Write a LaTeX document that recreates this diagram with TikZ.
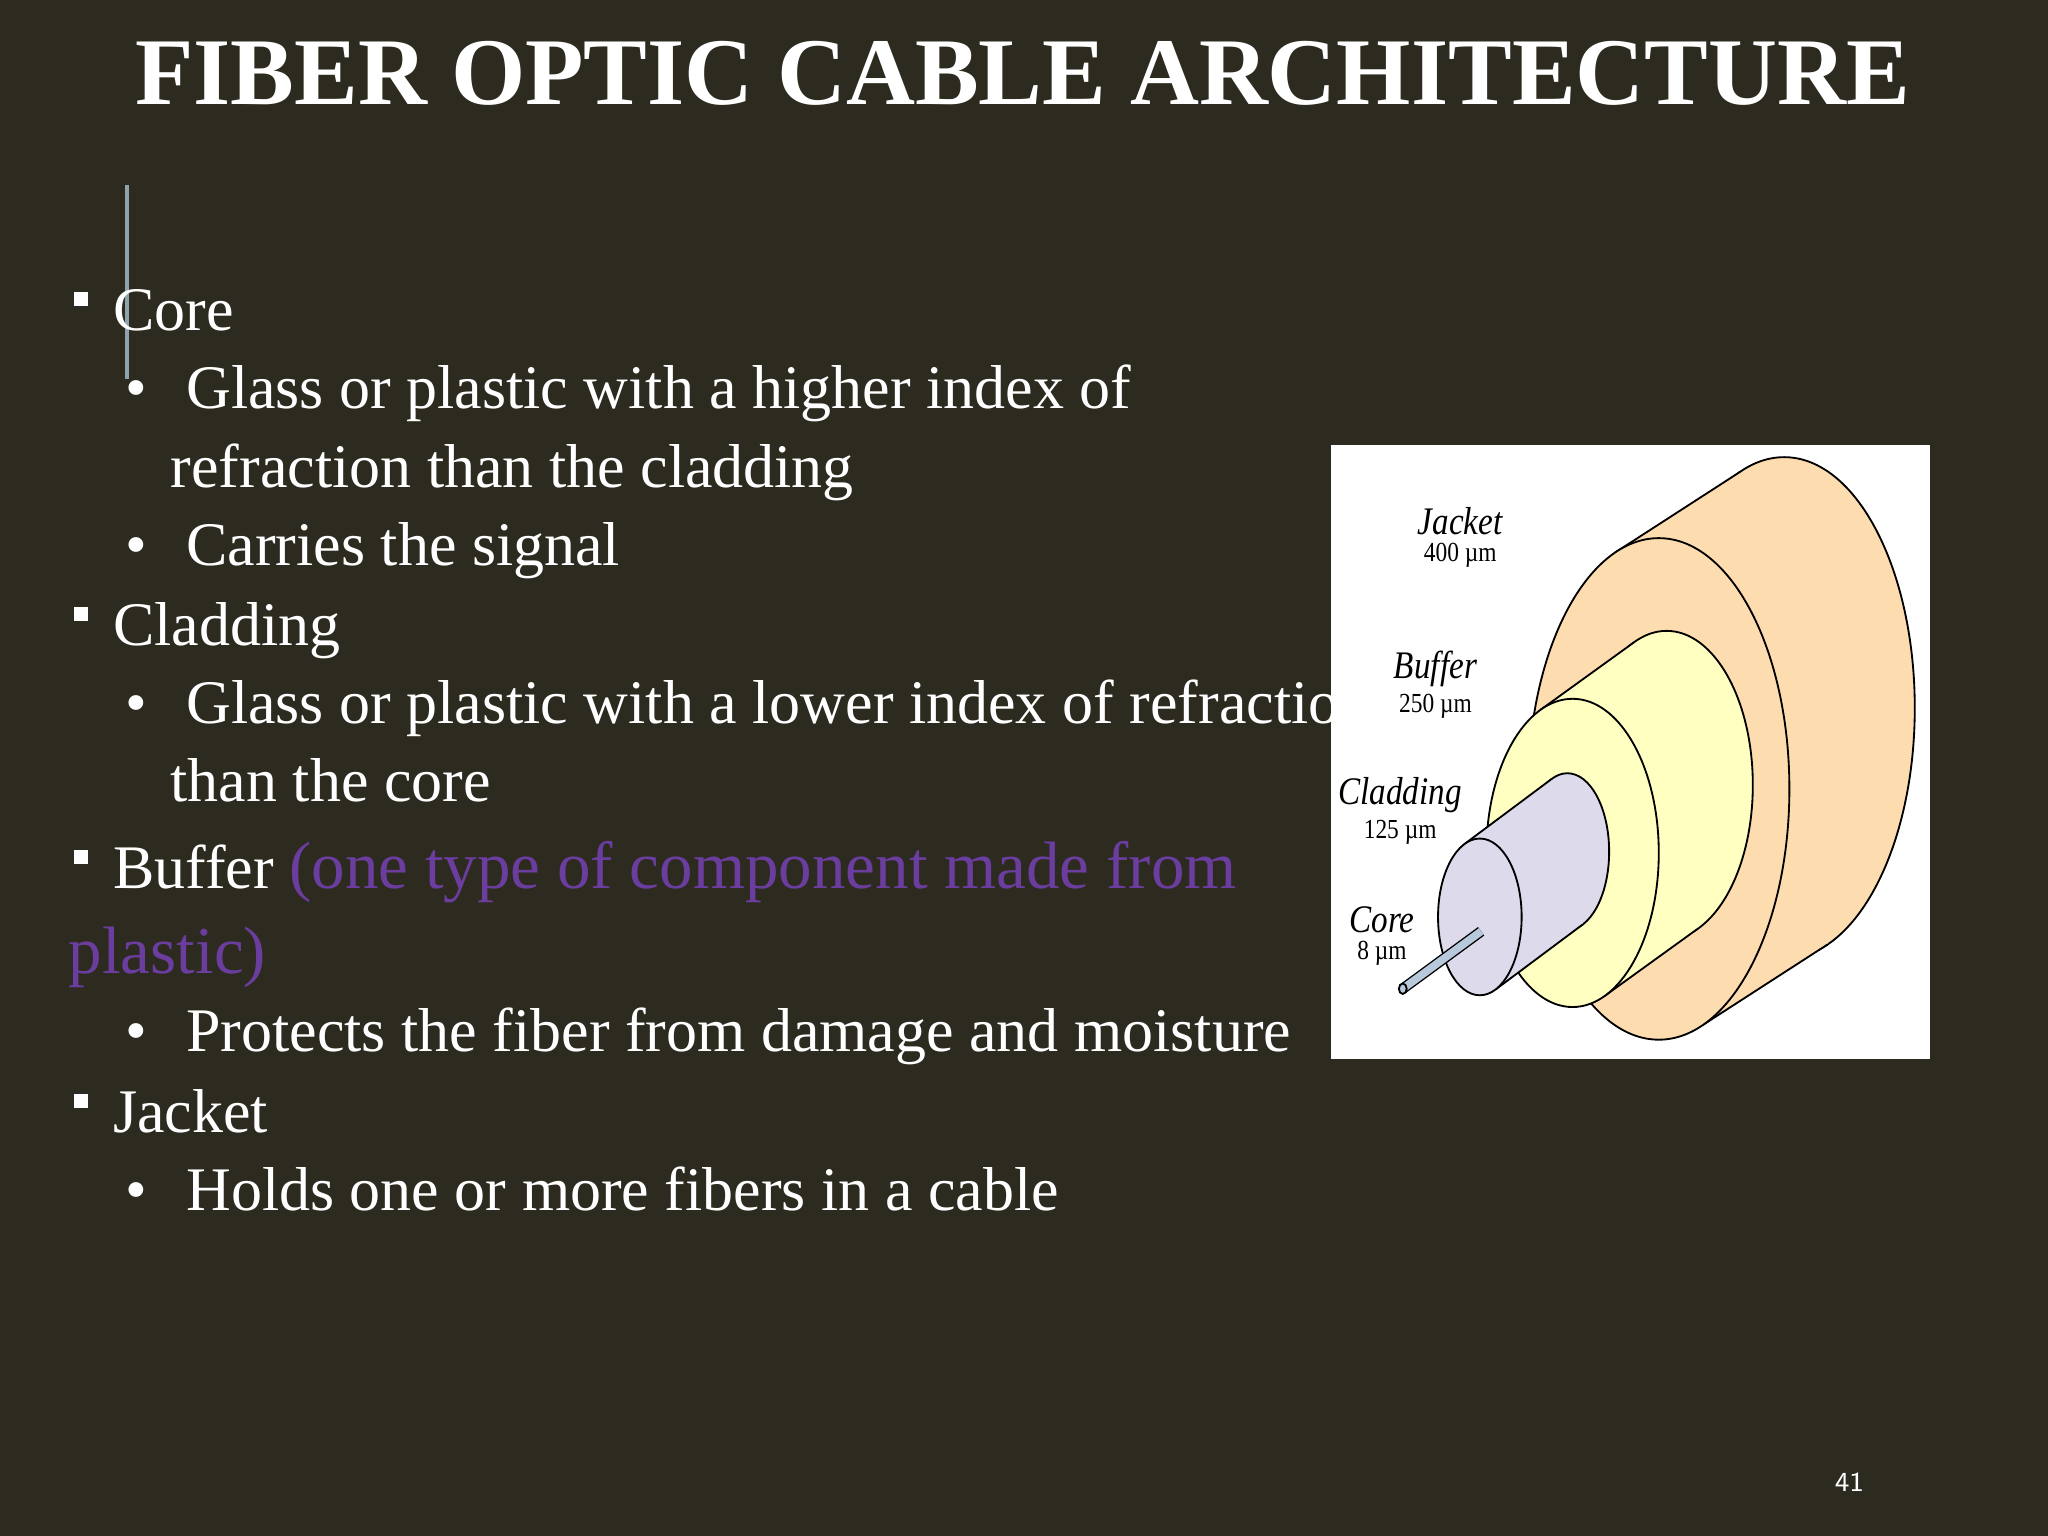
\documentclass[tikz,border=0pt]{standalone}
\usepackage{fontspec}
\setmainfont{Liberation Serif}
\usetikzlibrary{calc}
\definecolor{bg}{HTML}{2D2B20}
\definecolor{purp}{HTML}{6A3D9E}
\definecolor{jack}{HTML}{FDDCB0}
\definecolor{buff}{HTML}{FFFFC2}
\definecolor{clad}{HTML}{DDDAEC}
\definecolor{corec}{HTML}{B9C9DC}
\newcommand\fibcyl[8]{%
  \fill[#8] (#1+#5,#2+#6) ellipse [x radius=#3,y radius=#4];
  \draw[black,line width=0.4pt] (#1+#5,#2+#6) ellipse [x radius=#3,y radius=#4];
  \fill[#8] ($(#1,#2)+(#7:#3 and #4)$) -- ($(#1+#5,#2+#6)+(#7:#3 and #4)$) -- ($(#1+#5,#2+#6)+(#7+180:#3 and #4)$) -- ($(#1,#2)+(#7+180:#3 and #4)$) -- cycle;
  \draw[line width=0.4pt] ($(#1,#2)+(#7:#3 and #4)$) -- ($(#1+#5,#2+#6)+(#7:#3 and #4)$);
  \draw[line width=0.4pt] ($(#1,#2)+(#7+180:#3 and #4)$) -- ($(#1+#5,#2+#6)+(#7+180:#3 and #4)$);
  \filldraw[fill=#8,line width=0.4pt] (#1,#2) ellipse [x radius=#3,y radius=#4];
}
\tikzset{
  main/.style={anchor=base west,text=white,font=\fontsize{13.5}{16}\selectfont,inner sep=0pt},
  sq/.style={fill=white,minimum size=3pt,inner sep=0pt},
  lab/.style={font=\fontsize{8.5}{10}\selectfont\itshape,inner sep=0pt,xscale=0.85},
  sz/.style={font=\fontsize{6}{7}\selectfont,inner sep=0pt,xscale=0.85}
}
\begin{document}
\begin{tikzpicture}[x=0.1mm,y=-0.1mm]
\fill[bg] (0,0) rectangle (1568,1176);
\useasboundingbox (0,0) rectangle (1568,1176);
\node[text=white,font=\fontsize{20.8}{24}\selectfont\bfseries,inner sep=0pt,anchor=base] (title) at (783,80) {FIBER OPTIC CABLE ARCHITECTURE};
\draw[color={rgb,255:red,143;green,163;blue,173},line width=0.9pt] (97,142) -- (97,290);
% bullets
\node[sq] (s1) at (62,229) {};
\node[main] (t1) at (86,253) {Core};
\node[main] (b1) at (95,313) {•};
\node[main] (t2) at (142,313) {Glass or plastic with a higher index of};
\node[main] (t3) at (130,373) {refraction than the cladding};
\node[main] (b2) at (95,433) {•};
\node[main] (t4) at (142,433) {Carries the signal};
\node[sq] (s2) at (62,470) {};
\node[main] (t5) at (86,494) {Cladding};
\node[main] (b3) at (95,554) {•};
\node[main] (t6) at (142,554) {Glass or plastic with a lower index of refraction};
\node[main] (t7) at (130,614) {than the core};
\node[sq] (s3) at (62,656) {};
\node[main] (t8) at (86,680) {Buffer {\fontsize{14.6}{17}\selectfont\textcolor{purp}{(one type of component made from}}};
\node[main,text=purp,font=\fontsize{14.6}{17}\selectfont] (t9) at (52,745) {plastic)};
\node[main] (b4) at (95,805) {•};
\node[main] (t10) at (142,805) {Protects the fiber from damage and moisture};
\node[sq] (s4) at (62,843) {};
\node[main] (t11) at (86,867) {Jacket};
\node[main] (b5) at (95,927) {•};
\node[main] (t12) at (142,927) {Holds one or more fibers in a cable};
\node[text=white,font=\sffamily\fontsize{6}{7}\selectfont,inner sep=0pt] (pg) at (1416,1135) {41};
% figure
\fill[white] (1019,341) rectangle (1478,811);
\fibcyl{1270}{604}{100}{192}{96}{-62}{70.5}{jack}
\fibcyl{1204}{653}{66}{118}{72}{-52}{68}{buff}
\fibcyl{1133}{702}{32}{60}{67}{-50}{68}{clad}
\draw[black,line width=2.3pt] (1074,757) -- (1134,713);
\draw[corec,line width=1.7pt] (1074,757) -- (1134,713);
\filldraw[fill=corec,line width=0.4pt] (1074,757) ellipse [x radius=3,y radius=4];
\node[lab] (lj) at (1118,399) {Jacket};
\node[sz] (sj) at (1118,425) {400 µm};
\node[lab] (lb) at (1099,512) {Buffer};
\node[sz] (sb) at (1099,541) {250 µm};
\node[lab] (lc) at (1072,609) {Cladding};
\node[sz] (sc) at (1072,637) {125 µm};
\node[lab] (lo) at (1058,704) {Core};
\node[sz] (so) at (1058,730) {8 µm};
\end{tikzpicture}
\end{document}
